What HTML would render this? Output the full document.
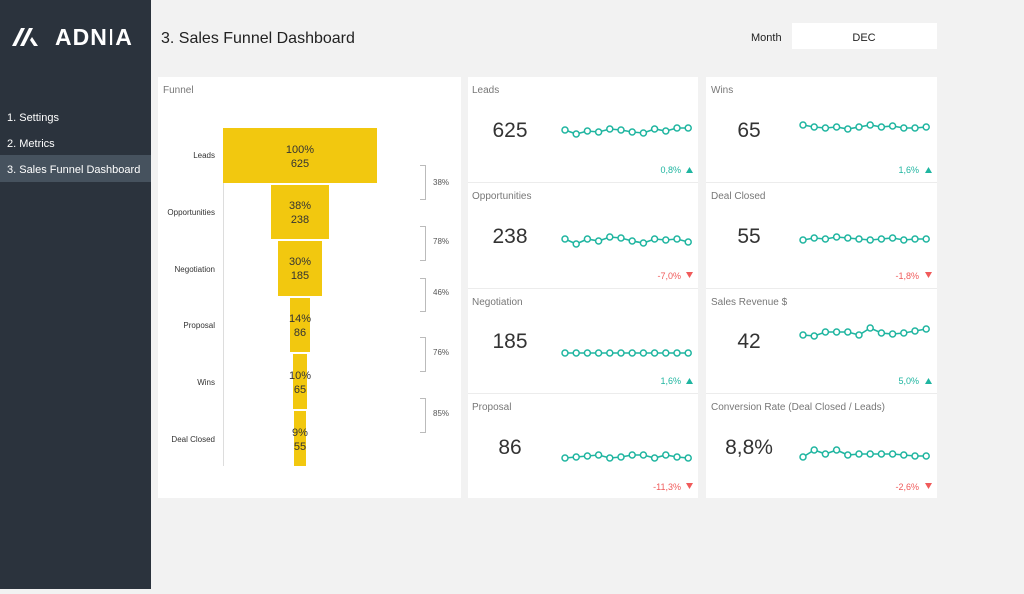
<!DOCTYPE html>
<html><head><meta charset="utf-8"><style>
body{margin:0;width:1024px;height:589px;overflow:hidden;background:#f2f2f2;font-family:"Liberation Sans",sans-serif}
svg text{font-family:"Liberation Sans",sans-serif}
</style></head><body>
<svg id="s" width="1024" height="589" xmlns="http://www.w3.org/2000/svg">
<rect x="0" y="0" width="1024" height="589" fill="#f2f2f2"/>
<rect x="0" y="0" width="151" height="589" fill="#2b333d"/>
<rect x="0" y="155" width="151" height="27" fill="#46525e"/>
<g fill="#fff">
<path d="M12 46 L21 28 L25 28 L16 46Z M20 46 L29 28 L33 28 L24 46Z M30 40 L34 46 L38 46 L32 37Z"/>
</g>
<text x="55" y="45" fill="#fff" font-size="23" font-weight="bold" letter-spacing="1">ADN<tspan font-weight="normal">I</tspan>A</text>
<text x="7" y="121" fill="#fff" font-size="11">1. Settings</text>
<text x="7" y="147" fill="#fff" font-size="11">2. Metrics</text>
<text x="7" y="173" fill="#fff" font-size="11">3. Sales Funnel Dashboard</text>
<text x="161" y="43" fill="#222" font-size="16">3. Sales Funnel Dashboard</text>
<text x="751" y="41" fill="#222" font-size="11">Month</text>
<rect x="792" y="23" width="145" height="26" fill="#fff"/>
<text x="864" y="41" fill="#222" font-size="11" text-anchor="middle">DEC</text>
<rect x="158" y="77" width="303" height="421" fill="#fff"/>
<rect x="468" y="77" width="230" height="421" fill="#fff"/>
<rect x="706" y="77" width="231" height="421" fill="#fff"/>
<g stroke="#ececec"><line x1="468" x2="698" y1="182.5" y2="182.5"/><line x1="468" x2="698" y1="288.5" y2="288.5"/><line x1="468" x2="698" y1="393.5" y2="393.5"/>
<line x1="706" x2="937" y1="182.5" y2="182.5"/><line x1="706" x2="937" y1="288.5" y2="288.5"/><line x1="706" x2="937" y1="393.5" y2="393.5"/></g>
<text x="163" y="93" fill="#777" font-size="10">Funnel</text>
<line x1="223.5" y1="128" x2="223.5" y2="466" stroke="#ddd"/>
<g fill="#f2c80f">
<rect x="223" y="128" width="154" height="55"/><rect x="271" y="185" width="58" height="54"/><rect x="278" y="241" width="44" height="55"/>
<rect x="290" y="298" width="20" height="54"/><rect x="293" y="354" width="14" height="55"/><rect x="294" y="411" width="12" height="55"/></g>
<g font-size="11" fill="#333" text-anchor="middle">
<text x="300" y="153">100%</text><text x="300" y="167">625</text>
<text x="300" y="209">38%</text><text x="300" y="223">238</text>
<text x="300" y="265">30%</text><text x="300" y="279">185</text>
<text x="300" y="322">14%</text><text x="300" y="336">86</text>
<text x="300" y="379">10%</text><text x="300" y="393">65</text>
<text x="300" y="436">9%</text><text x="300" y="450">55</text></g>
<g font-size="8" fill="#333" text-anchor="end">
<text x="215" y="158">Leads</text><text x="215" y="215">Opportunities</text><text x="215" y="272">Negotiation</text>
<text x="215" y="328">Proposal</text><text x="215" y="385">Wins</text><text x="215" y="442">Deal Closed</text></g>
<g fill="none" stroke="#bbb">
<path d="M420 165.5h5.5v34h-5.5"/><path d="M420 226.5h5.5v34h-5.5"/><path d="M420 278.5h5.5v33h-5.5"/><path d="M420 337.5h5.5v34h-5.5"/><path d="M420 398.5h5.5v34h-5.5"/></g>
<g font-size="8" fill="#555">
<text x="433" y="185">38%</text><text x="433" y="244">78%</text><text x="433" y="295">46%</text><text x="433" y="355">76%</text><text x="433" y="416">85%</text></g>
<g font-size="10" fill="#777">
<text x="472" y="93">Leads</text><text x="472" y="199">Opportunities</text><text x="472" y="305">Negotiation</text><text x="472" y="410">Proposal</text>
<text x="711" y="93">Wins</text><text x="711" y="199">Deal Closed</text><text x="711" y="305">Sales Revenue $</text><text x="711" y="410">Conversion Rate (Deal Closed / Leads)</text></g>
<g font-size="21" fill="#333" text-anchor="middle">
<text x="510" y="137">625</text><text x="510" y="243">238</text><text x="510" y="348">185</text><text x="510" y="454">86</text>
<text x="749" y="137">65</text><text x="749" y="243">55</text><text x="749" y="348">42</text><text x="749" y="454">8,8%</text></g>
<g font-size="9" text-anchor="end">
<text x="681" y="173" fill="#1fb5a0">0,8%</text><text x="681" y="279" fill="#f05a5a">-7,0%</text><text x="681" y="384" fill="#1fb5a0">1,6%</text><text x="681" y="490" fill="#f05a5a">-11,3%</text>
<text x="919" y="173" fill="#1fb5a0">1,6%</text><text x="919" y="279" fill="#f05a5a">-1,8%</text><text x="919" y="384" fill="#1fb5a0">5,0%</text><text x="919" y="490" fill="#f05a5a">-2,6%</text></g>
<g fill="#1fb5a0"><path d="M686 173h7l-3.5-6z"/><path d="M686 384h7l-3.5-6z"/><path d="M925 173h7l-3.5-6z"/><path d="M925 384h7l-3.5-6z"/></g>
<g fill="#f05a5a"><path d="M686 272h7l-3.5 6z"/><path d="M686 483h7l-3.5 6z"/><path d="M925 272h7l-3.5 6z"/><path d="M925 483h7l-3.5 6z"/></g>
<g id="sp"></g>
</svg>
<script>
var d=[[565,130,[0,4,1,2,-1,0,2,3,-1,1,-2,-2]],[565,240,[-1,4,-1,1,-3,-2,1,3,-1,0,-1,2]],[565,353,[0,0,0,0,0,0,0,0,0,0,0,0]],[565,457,[1,0,-1,-2,1,0,-2,-2,1,-2,0,1]],
[803,127,[-2,0,1,0,2,0,-2,0,-1,1,1,0]],[803,239,[1,-1,0,-2,-1,0,1,0,-1,1,0,0]],[803,336,[-1,0,-4,-4,-4,-1,-8,-3,-2,-3,-5,-7]],[803,455,[2,-5,-1,-5,0,-1,-1,-1,-1,0,1,1]]];
var g=document.getElementById('sp'),h='';
d.forEach(function(s){var p=s[2].map(function(v,i){return [s[0]+i*11.2,s[1]+v]});
h+='<polyline fill="none" stroke="#1fb5a0" stroke-width="1.6" points="'+p.map(function(q){return q.join(',')}).join(' ')+'"/>';
p.forEach(function(q){h+='<circle cx="'+q[0]+'" cy="'+q[1]+'" r="3" fill="#fff" stroke="#1fb5a0" stroke-width="1.5"/>'});});
g.innerHTML=h;
</script>
</body></html>
